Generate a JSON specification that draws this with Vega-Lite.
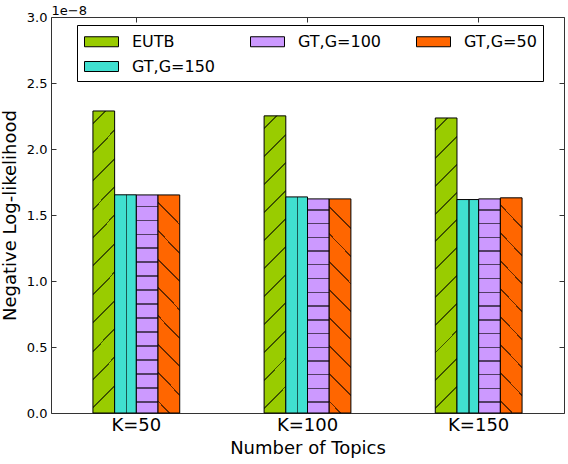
{
  "$schema": "https://vega.github.io/schema/vega-lite/v6.json",
  "width": 513,
  "height": 396,
  "autosize": {"type": "none"},
  "padding": {"left": 51, "top": 17, "right": 4, "bottom": 51},
  "data": {
    "values": [
      {"K": "K=50", "method": "EUTB", "nll": 2.288},
      {"K": "K=50", "method": "GT,G=150", "nll": 1.653},
      {"K": "K=50", "method": "GT,G=100", "nll": 1.652},
      {"K": "K=50", "method": "GT,G=50", "nll": 1.652},
      {"K": "K=100", "method": "EUTB", "nll": 2.251},
      {"K": "K=100", "method": "GT,G=150", "nll": 1.637},
      {"K": "K=100", "method": "GT,G=100", "nll": 1.622},
      {"K": "K=100", "method": "GT,G=50", "nll": 1.622},
      {"K": "K=150", "method": "EUTB", "nll": 2.235},
      {"K": "K=150", "method": "GT,G=150", "nll": 1.617},
      {"K": "K=150", "method": "GT,G=100", "nll": 1.622},
      {"K": "K=150", "method": "GT,G=50", "nll": 1.630}
    ]
  },
  "layer": [
    {
      "mark": {"type": "bar", "stroke": "black", "strokeWidth": 1},
      "encoding": {
        "x": {
          "field": "K", "type": "nominal", "sort": null,
          "scale": {"domain": ["K=50", "K=100", "K=150"], "paddingInner": 0.493, "paddingOuter": 0.245},
          "axis": {"orient": "bottom", "title": "Number of Topics", "labelAngle": 0, "labelFontSize": 18, "titleFontSize": 18, "tickSize": -5, "labelPadding": 8, "titlePadding": 5.5}
        },
        "xOffset": {
          "field": "method", "type": "nominal",
          "scale": {"domain": ["EUTB", "GT,G=150", "GT,G=100", "GT,G=50"], "paddingInner": 0, "paddingOuter": 0}
        },
        "y": {
          "field": "nll", "type": "quantitative",
          "scale": {"domain": [0, 3], "nice": false},
          "axis": {"title": "Negative Log-likelihood", "values": [0, 0.5, 1, 1.5, 2, 2.5, 3], "format": ".1f", "labelFontSize": 13, "titleFontSize": 18, "tickSize": -5, "labelPadding": 9, "titlePadding": 7, "grid": false}
        },
        "color": {
          "field": "method", "type": "nominal",
          "scale": {"domain": ["EUTB", "GT,G=50", "GT,G=100", "GT,G=150"], "range": ["#99cc00", "#ff6600", "#cc99ff", "#40e0d0"]},
          "legend": {
            "orient": "none", "legendX": 26, "legendY": 8, "columns": 3, "title": null,
            "symbolType": "M-1.7,-0.5H1.7V0.5H-1.7Z", "symbolSize": 400, "symbolOffset": 8,
            "symbolStrokeColor": "black", "symbolStrokeWidth": 1, "symbolOpacity": 1,
            "labelFontSize": 16, "labelOffset": 20, "labelColor": "black",
            "columnPadding": 32, "rowPadding": 6, "padding": 6,
            "strokeColor": "black", "fillColor": "white", "cornerRadius": 0
          }
        }
      }
    },
    {
      "transform": [{"filter": "datum.method === 'EUTB'"}],
      "mark": {
        "type": "bar", "strokeWidth": 0,
        "fill": {
          "gradient": "linear", "x1": 0, "y1": 0, "x2": 0.0788, "y2": 1.068,
          "stops": [
            {"offset": 0, "color": "rgba(0,0,0,0)"},
            {"offset": 0.037, "color": "rgba(0,0,0,0)"}, {"offset": 0.037, "color": "rgba(0,0,0,0.6)"}, {"offset": 0.043, "color": "rgba(0,0,0,0.6)"}, {"offset": 0.043, "color": "rgba(0,0,0,0)"},
            {"offset": 0.125, "color": "rgba(0,0,0,0)"}, {"offset": 0.125, "color": "rgba(0,0,0,0.6)"}, {"offset": 0.131, "color": "rgba(0,0,0,0.6)"}, {"offset": 0.131, "color": "rgba(0,0,0,0)"},
            {"offset": 0.212, "color": "rgba(0,0,0,0)"}, {"offset": 0.212, "color": "rgba(0,0,0,0.6)"}, {"offset": 0.218, "color": "rgba(0,0,0,0.6)"}, {"offset": 0.218, "color": "rgba(0,0,0,0)"},
            {"offset": 0.300, "color": "rgba(0,0,0,0)"}, {"offset": 0.300, "color": "rgba(0,0,0,0.6)"}, {"offset": 0.306, "color": "rgba(0,0,0,0.6)"}, {"offset": 0.306, "color": "rgba(0,0,0,0)"},
            {"offset": 0.387, "color": "rgba(0,0,0,0)"}, {"offset": 0.387, "color": "rgba(0,0,0,0.6)"}, {"offset": 0.393, "color": "rgba(0,0,0,0.6)"}, {"offset": 0.393, "color": "rgba(0,0,0,0)"},
            {"offset": 0.475, "color": "rgba(0,0,0,0)"}, {"offset": 0.475, "color": "rgba(0,0,0,0.6)"}, {"offset": 0.481, "color": "rgba(0,0,0,0.6)"}, {"offset": 0.481, "color": "rgba(0,0,0,0)"},
            {"offset": 0.563, "color": "rgba(0,0,0,0)"}, {"offset": 0.563, "color": "rgba(0,0,0,0.6)"}, {"offset": 0.569, "color": "rgba(0,0,0,0.6)"}, {"offset": 0.569, "color": "rgba(0,0,0,0)"},
            {"offset": 0.650, "color": "rgba(0,0,0,0)"}, {"offset": 0.650, "color": "rgba(0,0,0,0.6)"}, {"offset": 0.656, "color": "rgba(0,0,0,0.6)"}, {"offset": 0.656, "color": "rgba(0,0,0,0)"},
            {"offset": 0.738, "color": "rgba(0,0,0,0)"}, {"offset": 0.738, "color": "rgba(0,0,0,0.6)"}, {"offset": 0.744, "color": "rgba(0,0,0,0.6)"}, {"offset": 0.744, "color": "rgba(0,0,0,0)"},
            {"offset": 0.825, "color": "rgba(0,0,0,0)"}, {"offset": 0.825, "color": "rgba(0,0,0,0.6)"}, {"offset": 0.831, "color": "rgba(0,0,0,0.6)"}, {"offset": 0.831, "color": "rgba(0,0,0,0)"},
            {"offset": 0.913, "color": "rgba(0,0,0,0)"}, {"offset": 0.913, "color": "rgba(0,0,0,0.6)"}, {"offset": 0.919, "color": "rgba(0,0,0,0.6)"}, {"offset": 0.919, "color": "rgba(0,0,0,0)"},
            {"offset": 1, "color": "rgba(0,0,0,0)"}
          ]
        }
      },
      "encoding": {
        "x": {
          "field": "K", "type": "nominal", "sort": null,
          "scale": {"domain": ["K=50", "K=100", "K=150"], "paddingInner": 0.493, "paddingOuter": 0.245},
          "axis": {"orient": "top", "labels": false, "tickSize": -5, "title": "1e−8", "titleX": 0, "titleY": -3, "titleAlign": "left", "titleBaseline": "alphabetic", "titleAngle": 0, "titleFontSize": 13}
        },
        "xOffset": {
          "field": "method", "type": "nominal",
          "scale": {"domain": ["EUTB", "GT,G=150", "GT,G=100", "GT,G=50"], "paddingInner": 0, "paddingOuter": 0}
        },
        "y": {
          "field": "nll", "type": "quantitative",
          "scale": {"domain": [0, 3], "nice": false},
          "axis": {"orient": "right", "labels": false, "title": null, "values": [0, 0.5, 1, 1.5, 2, 2.5, 3], "tickSize": -5, "grid": false}
        }
      }
    },
    {
      "transform": [{"filter": "datum.method === 'GT,G=150'"}],
      "mark": {
        "type": "bar", "strokeWidth": 0,
        "fill": {
          "gradient": "linear", "x1": 0, "y1": 0, "x2": 1, "y2": 0,
          "stops": [
            {"offset": 0, "color": "rgba(0,0,0,0)"},
            {"offset": 0.52, "color": "rgba(0,0,0,0)"}, {"offset": 0.52, "color": "rgba(0,0,0,0.6)"}, {"offset": 0.58, "color": "rgba(0,0,0,0.6)"}, {"offset": 0.58, "color": "rgba(0,0,0,0)"},
            {"offset": 1, "color": "rgba(0,0,0,0)"}
          ]
        }
      },
      "encoding": {
        "x": {"field": "K", "type": "nominal", "sort": null, "scale": {"domain": ["K=50", "K=100", "K=150"], "paddingInner": 0.493, "paddingOuter": 0.245}, "axis": null},
        "xOffset": {"field": "method", "type": "nominal", "scale": {"domain": ["EUTB", "GT,G=150", "GT,G=100", "GT,G=50"], "paddingInner": 0, "paddingOuter": 0}},
        "y": {"field": "nll", "type": "quantitative", "scale": {"domain": [0, 3], "nice": false}, "axis": null}
      }
    },
    {
      "transform": [{"filter": "datum.method === 'GT,G=100'"}],
      "mark": {
        "type": "bar", "strokeWidth": 0,
        "fill": {
          "gradient": "linear", "x1": 0, "y1": 0, "x2": 0, "y2": 1,
          "stops": [
            {"offset": 0, "color": "rgba(0,0,0,0)"},
            {"offset": 0.049, "color": "rgba(0,0,0,0)"}, {"offset": 0.049, "color": "rgba(0,0,0,0.6)"}, {"offset": 0.055, "color": "rgba(0,0,0,0.6)"}, {"offset": 0.055, "color": "rgba(0,0,0,0)"},
            {"offset": 0.113, "color": "rgba(0,0,0,0)"}, {"offset": 0.113, "color": "rgba(0,0,0,0.6)"}, {"offset": 0.119, "color": "rgba(0,0,0,0.6)"}, {"offset": 0.119, "color": "rgba(0,0,0,0)"},
            {"offset": 0.177, "color": "rgba(0,0,0,0)"}, {"offset": 0.177, "color": "rgba(0,0,0,0.6)"}, {"offset": 0.183, "color": "rgba(0,0,0,0.6)"}, {"offset": 0.183, "color": "rgba(0,0,0,0)"},
            {"offset": 0.241, "color": "rgba(0,0,0,0)"}, {"offset": 0.241, "color": "rgba(0,0,0,0.6)"}, {"offset": 0.247, "color": "rgba(0,0,0,0.6)"}, {"offset": 0.247, "color": "rgba(0,0,0,0)"},
            {"offset": 0.305, "color": "rgba(0,0,0,0)"}, {"offset": 0.305, "color": "rgba(0,0,0,0.6)"}, {"offset": 0.311, "color": "rgba(0,0,0,0.6)"}, {"offset": 0.311, "color": "rgba(0,0,0,0)"},
            {"offset": 0.369, "color": "rgba(0,0,0,0)"}, {"offset": 0.369, "color": "rgba(0,0,0,0.6)"}, {"offset": 0.375, "color": "rgba(0,0,0,0.6)"}, {"offset": 0.375, "color": "rgba(0,0,0,0)"},
            {"offset": 0.433, "color": "rgba(0,0,0,0)"}, {"offset": 0.433, "color": "rgba(0,0,0,0.6)"}, {"offset": 0.439, "color": "rgba(0,0,0,0.6)"}, {"offset": 0.439, "color": "rgba(0,0,0,0)"},
            {"offset": 0.497, "color": "rgba(0,0,0,0)"}, {"offset": 0.497, "color": "rgba(0,0,0,0.6)"}, {"offset": 0.503, "color": "rgba(0,0,0,0.6)"}, {"offset": 0.503, "color": "rgba(0,0,0,0)"},
            {"offset": 0.562, "color": "rgba(0,0,0,0)"}, {"offset": 0.562, "color": "rgba(0,0,0,0.6)"}, {"offset": 0.568, "color": "rgba(0,0,0,0.6)"}, {"offset": 0.568, "color": "rgba(0,0,0,0)"},
            {"offset": 0.626, "color": "rgba(0,0,0,0)"}, {"offset": 0.626, "color": "rgba(0,0,0,0.6)"}, {"offset": 0.632, "color": "rgba(0,0,0,0.6)"}, {"offset": 0.632, "color": "rgba(0,0,0,0)"},
            {"offset": 0.690, "color": "rgba(0,0,0,0)"}, {"offset": 0.690, "color": "rgba(0,0,0,0.6)"}, {"offset": 0.696, "color": "rgba(0,0,0,0.6)"}, {"offset": 0.696, "color": "rgba(0,0,0,0)"},
            {"offset": 0.754, "color": "rgba(0,0,0,0)"}, {"offset": 0.754, "color": "rgba(0,0,0,0.6)"}, {"offset": 0.760, "color": "rgba(0,0,0,0.6)"}, {"offset": 0.760, "color": "rgba(0,0,0,0)"},
            {"offset": 0.818, "color": "rgba(0,0,0,0)"}, {"offset": 0.818, "color": "rgba(0,0,0,0.6)"}, {"offset": 0.824, "color": "rgba(0,0,0,0.6)"}, {"offset": 0.824, "color": "rgba(0,0,0,0)"},
            {"offset": 0.882, "color": "rgba(0,0,0,0)"}, {"offset": 0.882, "color": "rgba(0,0,0,0.6)"}, {"offset": 0.888, "color": "rgba(0,0,0,0.6)"}, {"offset": 0.888, "color": "rgba(0,0,0,0)"},
            {"offset": 0.946, "color": "rgba(0,0,0,0)"}, {"offset": 0.946, "color": "rgba(0,0,0,0.6)"}, {"offset": 0.952, "color": "rgba(0,0,0,0.6)"}, {"offset": 0.952, "color": "rgba(0,0,0,0)"},
            {"offset": 1, "color": "rgba(0,0,0,0)"}
          ]
        }
      },
      "encoding": {
        "x": {"field": "K", "type": "nominal", "sort": null, "scale": {"domain": ["K=50", "K=100", "K=150"], "paddingInner": 0.493, "paddingOuter": 0.245}, "axis": null},
        "xOffset": {"field": "method", "type": "nominal", "scale": {"domain": ["EUTB", "GT,G=150", "GT,G=100", "GT,G=50"], "paddingInner": 0, "paddingOuter": 0}},
        "y": {"field": "nll", "type": "quantitative", "scale": {"domain": [0, 3], "nice": false}, "axis": null}
      }
    },
    {
      "transform": [{"filter": "datum.method === 'GT,G=50'"}],
      "mark": {
        "type": "bar", "strokeWidth": 0,
        "fill": {
          "gradient": "linear", "x1": 0, "y1": 1, "x2": 0.1116, "y2": -0.0909,
          "stops": [
            {"offset": 0, "color": "rgba(0,0,0,0)"},
            {"offset": 0.046, "color": "rgba(0,0,0,0)"}, {"offset": 0.046, "color": "rgba(0,0,0,0.6)"}, {"offset": 0.054, "color": "rgba(0,0,0,0.6)"}, {"offset": 0.054, "color": "rgba(0,0,0,0)"},
            {"offset": 0.164, "color": "rgba(0,0,0,0)"}, {"offset": 0.164, "color": "rgba(0,0,0,0.6)"}, {"offset": 0.172, "color": "rgba(0,0,0,0.6)"}, {"offset": 0.172, "color": "rgba(0,0,0,0)"},
            {"offset": 0.282, "color": "rgba(0,0,0,0)"}, {"offset": 0.282, "color": "rgba(0,0,0,0.6)"}, {"offset": 0.290, "color": "rgba(0,0,0,0.6)"}, {"offset": 0.290, "color": "rgba(0,0,0,0)"},
            {"offset": 0.400, "color": "rgba(0,0,0,0)"}, {"offset": 0.400, "color": "rgba(0,0,0,0.6)"}, {"offset": 0.408, "color": "rgba(0,0,0,0.6)"}, {"offset": 0.408, "color": "rgba(0,0,0,0)"},
            {"offset": 0.518, "color": "rgba(0,0,0,0)"}, {"offset": 0.518, "color": "rgba(0,0,0,0.6)"}, {"offset": 0.526, "color": "rgba(0,0,0,0.6)"}, {"offset": 0.526, "color": "rgba(0,0,0,0)"},
            {"offset": 0.636, "color": "rgba(0,0,0,0)"}, {"offset": 0.636, "color": "rgba(0,0,0,0.6)"}, {"offset": 0.644, "color": "rgba(0,0,0,0.6)"}, {"offset": 0.644, "color": "rgba(0,0,0,0)"},
            {"offset": 0.754, "color": "rgba(0,0,0,0)"}, {"offset": 0.754, "color": "rgba(0,0,0,0.6)"}, {"offset": 0.762, "color": "rgba(0,0,0,0.6)"}, {"offset": 0.762, "color": "rgba(0,0,0,0)"},
            {"offset": 0.872, "color": "rgba(0,0,0,0)"}, {"offset": 0.872, "color": "rgba(0,0,0,0.6)"}, {"offset": 0.880, "color": "rgba(0,0,0,0.6)"}, {"offset": 0.880, "color": "rgba(0,0,0,0)"},
            {"offset": 1, "color": "rgba(0,0,0,0)"}
          ]
        }
      },
      "encoding": {
        "x": {"field": "K", "type": "nominal", "sort": null, "scale": {"domain": ["K=50", "K=100", "K=150"], "paddingInner": 0.493, "paddingOuter": 0.245}, "axis": null},
        "xOffset": {"field": "method", "type": "nominal", "scale": {"domain": ["EUTB", "GT,G=150", "GT,G=100", "GT,G=50"], "paddingInner": 0, "paddingOuter": 0}},
        "y": {"field": "nll", "type": "quantitative", "scale": {"domain": [0, 3], "nice": false}, "axis": null}
      }
    }
  ],
  "resolve": {"axis": {"x": "independent", "y": "independent"}},
  "config": {
    "font": "DejaVu Sans",
    "view": {"stroke": null},
    "axis": {"labelFont": "DejaVu Sans", "titleFont": "DejaVu Sans", "labelColor": "black", "titleColor": "black", "tickColor": "#333", "domainColor": "#333", "domainWidth": 1, "titleFontWeight": "normal"},
    "legend": {"labelFont": "DejaVu Sans"}
  }
}
